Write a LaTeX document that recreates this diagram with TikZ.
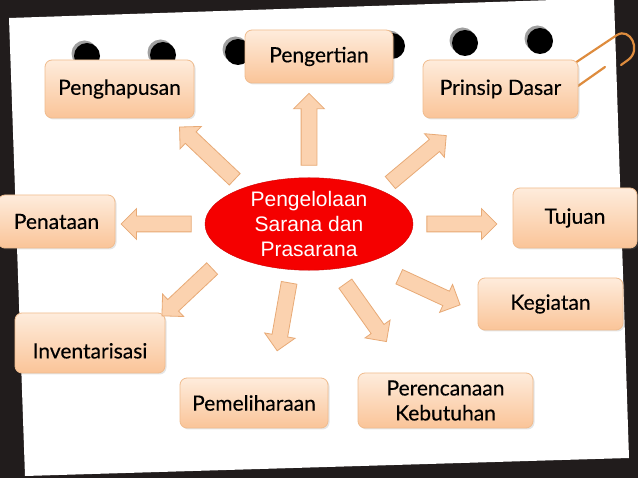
\documentclass[tikz,border=0pt]{standalone}
\usepackage{fontspec}
\setmainfont{Liberation Sans}
\newfontfamily\boxfont{Lato}[FakeBold=0.3]
\usetikzlibrary{shapes.geometric,shapes.arrows,shadows}
\definecolor{bgdark}{RGB}{33,28,28}
\definecolor{holegray}{RGB}{160,160,160}
\definecolor{clipor}{RGB}{222,140,62}
\definecolor{boxtop}{RGB}{254,236,220}
\definecolor{boxbot}{RGB}{250,196,152}
\definecolor{boxline}{RGB}{240,188,142}
\definecolor{arrfill}{RGB}{251,210,175}
\definecolor{arrline}{RGB}{232,170,118}
\definecolor{hubred}{RGB}{245,0,0}

\begin{document}
\begin{tikzpicture}[x=1pt, y=-1pt,
    topic/.style={draw=boxline, line width=0.8pt, rounded corners=7pt,
                  top color=boxtop, bottom color=boxbot, align=center,
                  inner sep=0pt, font=\boxfont\fontsize{21}{25}\selectfont,
                  drop shadow={opacity=0.2, shadow xshift=1.5pt, shadow yshift=-1.5pt}},
    hub/.style={ellipse, fill=hubred, draw=hubred!85!black, minimum width=208pt,
                minimum height=90pt, inner sep=0pt, align=center, text=white,
                font=\fontsize{21}{25}\selectfont},
    barrow/.style={single arrow, draw=arrline, fill=arrfill, line width=0.8pt,
                   inner xsep=0pt, inner ysep=7.5pt, single arrow head extend=7.5pt,
                   single arrow head indent=0pt, sloped, allow upside down}
  ]
  \useasboundingbox (0,0) rectangle (638,478);
  \clip (0,0) rectangle (638,478);
  % Board and paper
  \fill[bgdark] (0,0) rectangle (638,478);
  \fill[white] (9,18) -- (614,-2) -- (629,458) -- (25,476) -- cycle;
  % Binder holes
  \foreach \hx/\hy in {87/56, 163/55, 238/52, 392/46, 465/43, 540/41} {
    \fill[holegray] (\hx-2.5,\hy-2.5) circle[radius=13pt];
    \fill[black] (\hx,\hy) circle[radius=13pt];
  }
  % Paper clip
  \draw[clipor, line width=2.2pt, line cap=round]
    (575,63) -- (617,35) .. controls (630,27) and (642,50) .. (628,60) -- (621,65);
  \draw[clipor, line width=2.2pt, line cap=round] (605,67) -- (578,86);
  % Topic boxes
  \node[topic, minimum width=148pt, minimum height=53pt] (pgt) at (319,56.5) {Pengertian};
  \node[topic, minimum width=149pt, minimum height=58pt] (pgh) at (119.5,89) {Penghapusan};
  \node[topic, minimum width=155pt, minimum height=58pt] (pd) at (500.5,89) {Prinsip Dasar};
  \node[topic, minimum width=117pt, minimum height=53pt] (pnt) at (56.5,221.5) {Penataan};
  \node[topic, minimum width=124pt, minimum height=60pt] (tj) at (575,218) {Tujuan};
  \node[topic, minimum width=150pt, minimum height=60pt, text height=31pt] (inv) at (90,343) {Inventarisasi};
  \node[topic, minimum width=148pt, minimum height=50pt] (pml) at (254,403) {Pemeliharaan};
  \node[topic, minimum width=175pt, minimum height=55pt] (prk) at (445.5,400.5) {Perencanaan\\Kebutuhan};
  \node[topic, minimum width=145pt, minimum height=52pt] (kgt) at (550.5,304) {Kegiatan};
  % Centre
  \node[hub] (hub) at (309,224) {Pengelolaan\\Sarana dan\\Prasarana};
  % Block arrows
  \path (hub.north) -- (hub.north |- pgt.south) node[barrow, pos=0.47, minimum height=72pt] (toPgt) {};
  \path (hub.151) -- (pgh.-30) node[barrow, pos=0.46, minimum height=76pt] (toPgh) {};
  \path (hub.25) -- (pd.221) node[barrow, pos=0.40, minimum height=73pt] (toPd) {};
  \path (hub.west) -- (hub.west -| pnt.east) node[barrow, pos=0.5, minimum height=70pt] (toPnt) {};
  \path (hub.east) -- (hub.east -| tj.west) node[barrow, pos=0.45, minimum height=70pt] (toTj) {};
  \path (hub.200) -- (inv.north east) node[barrow, pos=0.61, minimum height=69pt] (toInv) {};
  \path (hub.249) -- (pml.54) node[barrow, pos=0.40, minimum height=69pt] (toPml) {};
  \path (hub.-60) -- (prk.143) node[barrow, pos=0.39, minimum height=71pt] (toPrk) {};
  \path (hub.-33) -- (kgt.187) node[barrow, pos=0.53, minimum height=67pt] (toKgt) {};
\end{tikzpicture}
\end{document}
